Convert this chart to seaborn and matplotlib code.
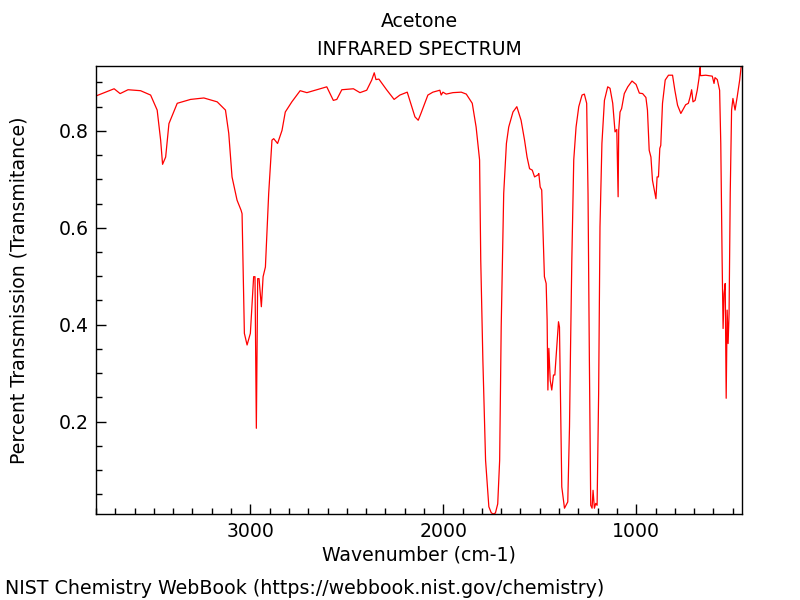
import matplotlib
matplotlib.use("Agg")
import matplotlib.pyplot as plt
import pandas as pd
import seaborn as sns
from matplotlib.ticker import MultipleLocator

sns.set_theme(style="ticks")
plt.rcParams['font.family'] = ['DejaVu Sans']
plt.rcParams['text.color'] = 'black'
plt.rcParams['axes.labelcolor'] = 'black'
plt.rcParams['xtick.color'] = 'black'
plt.rcParams['ytick.color'] = 'black'

# IR spectrum of acetone
wavenumber = [3801, 3706, 3675, 3634, 3569, 3517, 3483, 3465, 3455, 3439, 3422, 3379,
              3310, 3241, 3172, 3129, 3112, 3095, 3069, 3048, 3043, 3031, 3017, 3000,
              2983, 2976, 2969, 2962, 2955, 2943, 2934, 2922, 2905, 2888, 2879, 2859,
              2836, 2819, 2785, 2742, 2707, 2604, 2587, 2570, 2552, 2526, 2466, 2432,
              2397, 2371, 2358, 2349, 2334, 2294, 2255, 2225, 2187, 2166, 2147, 2130,
              2116, 2080, 2054, 2018, 2011, 2002, 1985, 1950, 1907, 1881, 1850, 1830,
              1812, 1806, 1795, 1781, 1764, 1752, 1743, 1730, 1718, 1708, 1700, 1687,
              1673, 1661, 1639, 1619, 1597, 1579, 1566, 1553, 1539, 1527, 1510, 1505,
              1498, 1490, 1485, 1476, 1467, 1462, 1458, 1453, 1446, 1438, 1429, 1422,
              1411, 1403, 1398, 1393, 1386, 1372, 1355, 1346, 1341, 1334, 1324, 1312,
              1298, 1281, 1269, 1257, 1250, 1243, 1236, 1229, 1224, 1217, 1210, 1203,
              1195, 1188, 1178, 1165, 1148, 1136, 1122, 1110, 1101, 1094, 1091, 1084,
              1076, 1062, 1044, 1022, 1001, 984, 967, 950, 942, 933, 924, 916, 898, 892,
              885, 878, 873, 864, 850, 833, 812, 800, 786, 769, 744, 730, 721, 713, 706,
              695, 684, 675, 669, 667, 640, 606, 597, 592, 580, 568, 562, 555, 550, 545,
              539, 534, 529, 524, 519, 513, 506, 499, 488, 477, 464, 456]
transmittance = [0.872, 0.887, 0.877, 0.885, 0.883, 0.874, 0.843, 0.781, 0.731, 0.746,
                 0.815, 0.857, 0.865, 0.868, 0.860, 0.843, 0.795, 0.705, 0.657, 0.636,
                 0.629, 0.382, 0.358, 0.382, 0.499, 0.499, 0.186, 0.495, 0.495, 0.437,
                 0.499, 0.519, 0.671, 0.781, 0.784, 0.774, 0.801, 0.839, 0.860, 0.883,
                 0.879, 0.891, 0.877, 0.863, 0.865, 0.885, 0.887, 0.879, 0.884, 0.905,
                 0.920, 0.906, 0.907, 0.885, 0.865, 0.874, 0.880, 0.853, 0.829, 0.822,
                 0.836, 0.874, 0.880, 0.884, 0.874, 0.880, 0.876, 0.879, 0.880, 0.876,
                 0.857, 0.808, 0.740, 0.533, 0.327, 0.120, 0.024, 0.012, 0.009, 0.011,
                 0.030, 0.120, 0.395, 0.671, 0.774, 0.808, 0.839, 0.850, 0.822, 0.781,
                 0.746, 0.722, 0.719, 0.705, 0.709, 0.712, 0.684, 0.678, 0.616, 0.499,
                 0.485, 0.409, 0.265, 0.351, 0.285, 0.265, 0.296, 0.296, 0.361, 0.406,
                 0.395, 0.258, 0.065, 0.021, 0.034, 0.189, 0.341, 0.533, 0.740, 0.808,
                 0.850, 0.874, 0.876, 0.857, 0.671, 0.327, 0.027, 0.021, 0.058, 0.021,
                 0.031, 0.027, 0.258, 0.602, 0.774, 0.863, 0.891, 0.888, 0.857, 0.798,
                 0.803, 0.664, 0.801, 0.839, 0.846, 0.877, 0.891, 0.903, 0.896, 0.878,
                 0.877, 0.869, 0.843, 0.760, 0.746, 0.698, 0.660, 0.705, 0.705, 0.764,
                 0.770, 0.857, 0.905, 0.915, 0.915, 0.884, 0.853, 0.836, 0.854, 0.857,
                 0.870, 0.885, 0.860, 0.863, 0.884, 0.908, 0.931, 0.914, 0.915, 0.913,
                 0.898, 0.910, 0.906, 0.884, 0.774, 0.533, 0.392, 0.464, 0.485, 0.248,
                 0.430, 0.361, 0.423, 0.671, 0.843, 0.867, 0.843, 0.870, 0.905, 0.934]

df = pd.DataFrame({'Wavenumber': wavenumber, 'Transmittance': transmittance})

fig = plt.figure(figsize=(8, 6), dpi=100)
ax = fig.add_axes([0.12, 0.1433, 0.8075, 0.7467])
sns.lineplot(data=df, x='Wavenumber', y='Transmittance', color='red',
             linewidth=0.9, estimator=None, sort=False, ax=ax)

ax.set_xlim(3800, 452)
ax.set_ylim(0.009, 0.934)
ax.xaxis.set_major_locator(MultipleLocator(1000))
ax.xaxis.set_minor_locator(MultipleLocator(100))
ax.yaxis.set_major_locator(MultipleLocator(0.2))
ax.yaxis.set_minor_locator(MultipleLocator(0.05))
ax.tick_params(which='both', direction='in', top=False, right=False, labelsize=13.6)
ax.tick_params(which='major', length=7, width=1)
ax.tick_params(which='minor', length=4, width=1)
ax.tick_params(axis='x', pad=6)
ax.tick_params(axis='y', pad=5)
for s in ax.spines.values():
    s.set_linewidth(1)
    s.set_color('black')

ax.set_xlabel('Wavenumber (cm-1)', fontsize=13.6, labelpad=3)
ax.set_ylabel('Percent Transmission (Transmitance)', fontsize=13.6, labelpad=22)

fig.text(0.524, 0.964, 'Acetone', ha='center', va='center', fontsize=13.6)
fig.text(0.524, 0.918, 'INFRARED SPECTRUM', ha='center', va='center', fontsize=13.6)
fig.text(0.006, 0.02, 'NIST Chemistry WebBook (https://webbook.nist.gov/chemistry)',
         ha='left', va='center', fontsize=13.7)

fig.savefig('out.png', dpi=100)
